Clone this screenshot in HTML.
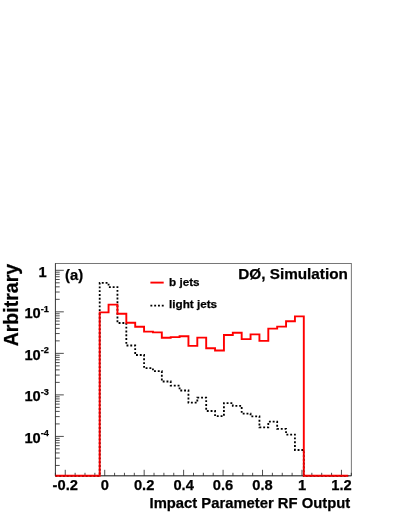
<!DOCTYPE html>
<html><head><meta charset="utf-8"><title>plot</title><style>html,body{margin:0;padding:0;background:#fff}svg{display:block}</style></head><body>
<svg width="399" height="516" viewBox="0 0 399 516">
<rect width="399" height="516" fill="#fff"/>
<rect x="55.40" y="263.40" width="295.90" height="212.40" fill="none" stroke="#555" stroke-width="0.8"/>
<g stroke="#444" stroke-width="1" fill="none">
<path d="M55.40 263.40 V475.80 H351.30"/>
</g>
<path d="M55.40 270.30h8.4M55.40 311.83h8.4M55.40 299.33h4.3M55.40 292.02h4.3M55.40 286.83h4.3M55.40 282.80h4.3M55.40 279.51h4.3M55.40 276.73h4.3M55.40 274.32h4.3M55.40 272.20h4.3M55.40 353.36h8.4M55.40 340.86h4.3M55.40 333.55h4.3M55.40 328.36h4.3M55.40 324.33h4.3M55.40 321.04h4.3M55.40 318.26h4.3M55.40 315.85h4.3M55.40 313.73h4.3M55.40 394.89h8.4M55.40 382.39h4.3M55.40 375.08h4.3M55.40 369.89h4.3M55.40 365.86h4.3M55.40 362.57h4.3M55.40 359.79h4.3M55.40 357.38h4.3M55.40 355.26h4.3M55.40 436.42h8.4M55.40 423.92h4.3M55.40 416.61h4.3M55.40 411.42h4.3M55.40 407.39h4.3M55.40 404.10h4.3M55.40 401.32h4.3M55.40 398.91h4.3M55.40 396.79h4.3M55.40 465.45h4.3M55.40 458.14h4.3M55.40 452.95h4.3M55.40 448.92h4.3M55.40 445.63h4.3M55.40 442.85h4.3M55.40 440.44h4.3M55.40 438.32h4.3M55.40 475.80v-3.0M65.26 475.80v-6.0M75.13 475.80v-3.0M84.99 475.80v-3.0M94.85 475.80v-3.0M104.72 475.80v-6.0M114.58 475.80v-3.0M124.44 475.80v-3.0M134.31 475.80v-3.0M144.17 475.80v-6.0M154.03 475.80v-3.0M163.90 475.80v-3.0M173.76 475.80v-3.0M183.62 475.80v-6.0M193.49 475.80v-3.0M203.35 475.80v-3.0M213.21 475.80v-3.0M223.08 475.80v-6.0M232.94 475.80v-3.0M242.80 475.80v-3.0M252.67 475.80v-3.0M262.53 475.80v-6.0M272.39 475.80v-3.0M282.26 475.80v-3.0M292.12 475.80v-3.0M301.98 475.80v-6.0M311.85 475.80v-3.0M321.71 475.80v-3.0M331.57 475.80v-3.0M341.44 475.80v-6.0M351.30 475.80v-3.0" stroke="#222" stroke-width="0.8" fill="none"/>
<path d="M55.40 475.80 L99.70 475.80 L99.70 282.80 L108.57 282.80 L108.57 287.10 L117.45 287.10 L117.45 323.00 L126.32 323.00 L126.32 345.50 L135.20 345.50 L135.20 355.00 L144.07 355.00 L144.07 368.20 L152.94 368.20 L152.94 371.20 L161.82 371.20 L161.82 381.50 L170.69 381.50 L170.69 385.60 L179.57 385.60 L179.57 390.50 L188.44 390.50 L188.44 402.70 L197.31 402.70 L197.31 397.70 L206.19 397.70 L206.19 411.00 L215.06 411.00 L215.06 416.20 L223.93 416.20 L223.93 403.20 L232.81 403.20 L232.81 405.80 L241.68 405.80 L241.68 413.70 L250.56 413.70 L250.56 416.40 L259.43 416.40 L259.43 427.40 L268.30 427.40 L268.30 421.70 L277.18 421.70 L277.18 428.80 L286.05 428.80 L286.05 434.60 L294.93 434.60 L294.93 450.00 L303.80 450.00 L303.80 475.80 L348.20 475.80" fill="none" stroke="#000" stroke-width="1.8" stroke-dasharray="1.9 1.9"/>
<path d="M55.40 475.80 L99.70 475.80 L99.70 312.40 L108.57 312.40 L108.57 304.60 L117.45 304.60 L117.45 313.80 L126.32 313.80 L126.32 322.70 L135.20 322.70 L135.20 326.80 L144.07 326.80 L144.07 331.60 L152.94 331.60 L152.94 332.40 L161.82 332.40 L161.82 337.70 L170.69 337.70 L170.69 337.10 L179.57 337.10 L179.57 336.20 L188.44 336.20 L188.44 345.90 L197.31 345.90 L197.31 337.60 L206.19 337.60 L206.19 348.20 L215.06 348.20 L215.06 350.50 L223.93 350.50 L223.93 335.00 L232.81 335.00 L232.81 332.70 L241.68 332.70 L241.68 339.10 L250.56 339.10 L250.56 334.40 L259.43 334.40 L259.43 340.90 L268.30 340.90 L268.30 328.60 L277.18 328.60 L277.18 326.60 L286.05 326.60 L286.05 321.30 L294.93 321.30 L294.93 316.40 L303.80 316.40 L303.80 475.80 L348.20 475.80" fill="none" stroke="#f00" stroke-width="1.9" stroke-linejoin="miter"/>
<path d="M55.40 475.80H99.70V312.40 M303.80 450.00V475.80H348.2" fill="none" stroke="#000" stroke-opacity="0.16" stroke-width="1.5" stroke-dasharray="1.9 1.9"/>
<path d="M150.4 282.6H163.7" stroke="#f00" stroke-width="1.9"/>
<path d="M150.4 305.6H163.7" stroke="#000" stroke-width="1.8" stroke-dasharray="1.9 1.9"/>
<g font-family="'Liberation Sans', Arial, Helvetica, sans-serif" font-weight="bold" fill="#000" stroke="#000" stroke-width="0.25">
<text x="169" y="286.2" font-size="11.7">b jets</text>
<text x="169" y="307.6" font-size="11.7">light jets</text>
<text x="65" y="279.8" font-size="14.8">(a)</text>
<text x="347.9" y="278.8" font-size="15.3" text-anchor="end">DØ, Simulation</text>
<text x="350.2" y="507.6" font-size="14.8" text-anchor="end">Impact Parameter RF Output</text>
<text transform="translate(17.5 346.3) rotate(-90)" font-size="19.5">Arbitrary</text>
<text x="65.26" y="489.8" font-size="14.7" text-anchor="middle">-0.2</text>
<text x="104.72" y="489.8" font-size="14.7" text-anchor="middle">0</text>
<text x="144.17" y="489.8" font-size="14.7" text-anchor="middle">0.2</text>
<text x="183.62" y="489.8" font-size="14.7" text-anchor="middle">0.4</text>
<text x="223.08" y="489.8" font-size="14.7" text-anchor="middle">0.6</text>
<text x="262.53" y="489.8" font-size="14.7" text-anchor="middle">0.8</text>
<text x="301.98" y="489.8" font-size="14.7" text-anchor="middle">1</text>
<text x="341.44" y="489.8" font-size="14.7" text-anchor="middle">1.2</text>
<text x="46.7" y="277.1" font-size="14.7" text-anchor="end">1</text>
<text x="40.8" y="318.33" font-size="14.7" text-anchor="end">10</text>
<text x="40.7" y="311.73" font-size="9.2">-1</text>
<text x="40.8" y="359.86" font-size="14.7" text-anchor="end">10</text>
<text x="40.7" y="353.26" font-size="9.2">-2</text>
<text x="40.8" y="401.39" font-size="14.7" text-anchor="end">10</text>
<text x="40.7" y="394.79" font-size="9.2">-3</text>
<text x="40.8" y="442.92" font-size="14.7" text-anchor="end">10</text>
<text x="40.7" y="436.32" font-size="9.2">-4</text>
</g>
</svg>
</body></html>
